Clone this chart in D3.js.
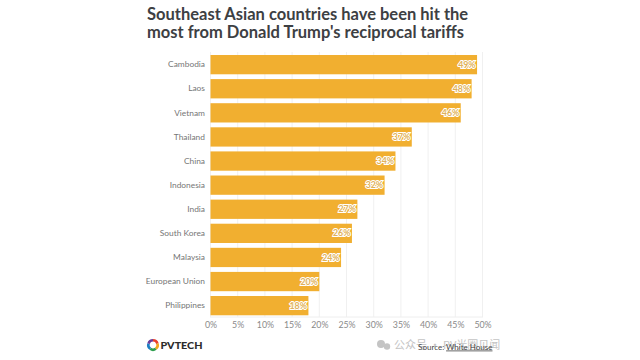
<!DOCTYPE html>
<html><head><meta charset="utf-8">
<script src="https://cdn.jsdelivr.net/npm/d3@7"></script>
<style>html,body{margin:0;padding:0;background:#fff;overflow:hidden}svg{display:block}text{font-family:Lato,sans-serif}</style>
</head><body><svg id="c" width="640" height="360"></svg>
<script>
const categories=["Cambodia","Laos","Vietnam","Thailand","China","Indonesia","India","South Korea","Malaysia","European Union","Philippines"];
const tariffs=[49,48,46,37,34,32,27,26,24,20,18];
const tickValues=[0,5,10,15,20,25,30,35,40,45,50];
const titleLines=["Southeast Asian countries have been hit the","most from Donald Trump's reciprocal tariffs"];
const logoColors=["#e8412c","#f2a81d","#2f9e4f","#1c7fc4","#6a3d9a"];

const svg=d3.select("#c");
const x=d3.scaleLinear().domain([0,50]).range([210.5,482.5]);
const y=d3.scaleBand().domain(categories).range([52.6,317.7]).paddingInner(0.2).paddingOuter(0.1);

svg.append("g").selectAll("text").data(titleLines).join("text")
  .attr("x",147).attr("y",(d,i)=>19.5+i*18)
  .attr("font-size",16.5).attr("font-weight",700).attr("fill","#3d4043").text(d=>d);

svg.append("g").selectAll("line").data(tickValues).join("line")
  .attr("x1",d=>x(d)).attr("x2",d=>x(d)).attr("y1",52).attr("y2",317)
  .attr("stroke","#f0f0f0").attr("stroke-width",1);
svg.append("line").attr("x1",210).attr("x2",483).attr("y1",317).attr("y2",317).attr("stroke","#eeeeee");

const xAxis=svg.append("g").attr("transform","translate(0,317)")
  .call(d3.axisBottom(x).tickValues(tickValues).tickFormat(d=>d+"%").tickSize(0).tickPadding(5));
xAxis.select(".domain").remove();
xAxis.selectAll("text").attr("font-size",8.8).attr("fill","#8a8a8a").style("font-family","Lato,sans-serif");

const yAxis=svg.append("g").attr("transform","translate(205,0)")
  .call(d3.axisLeft(y).tickSize(0).tickPadding(0));
yAxis.select(".domain").remove();
yAxis.selectAll("text").attr("font-size",8.4).attr("fill","#767676").style("font-family","Lato,sans-serif");

svg.append("g").selectAll("rect").data(categories).join("rect")
  .attr("x",x(0)).attr("y",d=>y(d)).attr("height",y.bandwidth())
  .attr("width",(d,i)=>x(tariffs[i])-x(0)).attr("fill","#f1af30");

svg.append("g").selectAll("text").data(categories).join("text")
  .attr("x",(d,i)=>x(tariffs[i])-1.5).attr("y",d=>y(d)+y.bandwidth()/2).attr("dy","0.35em")
  .attr("text-anchor","end").attr("font-size",8.8).attr("font-weight",700)
  .attr("fill","#e0b25a").attr("stroke","#ffffff").attr("stroke-width",2).attr("paint-order","stroke")
  .text((d,i)=>tariffs[i]+"%");

// logo
const arc=d3.arc().innerRadius(3.4).outerRadius(6);
const logo=svg.append("g").attr("transform","translate(153,345)");
logo.selectAll("path").data(d3.pie().value(1).sort(null)(logoColors)).join("path")
  .attr("d",arc).attr("fill",d=>d.data);
svg.append("text").attr("x",160.5).attr("y",348.5).attr("font-size",9.5).attr("font-weight",900)
  .attr("fill","#2c2c2c").attr("textLength",42).attr("lengthAdjust","spacingAndGlyphs").text("PVTECH");

// watermark + source
svg.append("text").attr("x",394).attr("y",349).attr("font-size",11).attr("fill","#c4c4c4")
  .style("font-family",'"Noto Sans CJK SC",sans-serif').text("公众号 · PV光圈见闻");
svg.append("circle").attr("cx",381).attr("cy",344).attr("r",4).attr("fill","#c4c4c4");
svg.append("circle").attr("cx",387).attr("cy",346.5).attr("r",3.2).attr("fill","#c4c4c4");
const src=svg.append("text").attr("x",492.5).attr("y",349.5).attr("text-anchor","end").attr("font-size",8).attr("fill","#444");
src.append("tspan").text("Source: ");
src.append("tspan").attr("text-decoration","underline").text("White House");
</script></body></html>
